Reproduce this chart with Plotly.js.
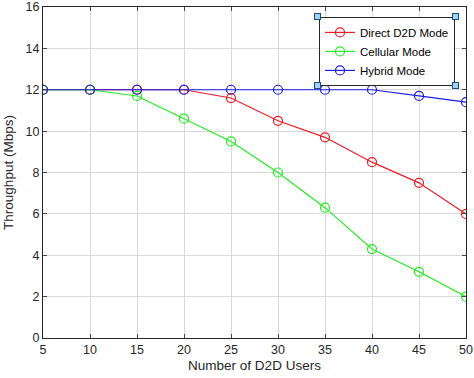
<!DOCTYPE html>
<html><head><meta charset="utf-8">
<script src="https://cdn.plot.ly/plotly-3.0.1.min.js"></script>
<style>html,body{margin:0;padding:0;background:#fff}#c{width:474px;height:378px}</style>
</head><body><div id="c"></div>
<script>
const users = [5, 10, 15, 20, 25, 30, 35, 40, 45, 50];
const direct = [12, 12, 12, 12, 11.6, 10.5, 9.7, 8.5, 7.5, 6.0];
const cellular = [12, 12, 11.7, 10.6, 9.5, 8.0, 6.3, 4.3, 3.2, 2.0];
const hybrid = [12, 12, 12, 12, 12, 12, 12, 12, 11.7, 11.4];
const names = ['Direct D2D Mode', 'Cellular Mode', 'Hybrid Mode'];
const colors = ['#ee1c25', '#22ee22', '#1c1cdd'];
const series = [direct, cellular, hybrid];

const traces = series.map((s, i) => ({
  x: users, y: s, name: names[i], type: 'scatter', mode: 'lines+markers',
  line: {color: colors[i], width: 1.2},
  marker: {symbol: 'circle-open', size: 9, color: colors[i], line: {width: 1.2}}
}));

const handles = [[0.649, 0.97], [0.974, 0.97], [0.649, 0.763], [0.974, 0.763]].map(p => ({
  xref: 'paper', yref: 'paper', x: p[0], y: p[1], xanchor: 'center', yanchor: 'middle',
  text: ' ', showarrow: false, width: 5, height: 5, borderpad: 0,
  bgcolor: '#9fd3f5', bordercolor: '#1c4f80', borderwidth: 1, font: {size: 4}
}));

Plotly.newPlot('c', traces, {
  width: 474, height: 378,
  margin: {l: 43, r: 8, t: 7, b: 40},
  paper_bgcolor: '#fff', plot_bgcolor: '#fff',
  font: {family: 'Liberation Sans, Arial, sans-serif', size: 12.5, color: '#262626'},
  showlegend: true,
  legend: {x: 0.974, y: 0.97, xanchor: 'right', yanchor: 'top', bgcolor: '#fff',
    bordercolor: '#262626', borderwidth: 1, font: {size: 11.5, color: '#000'},
    tracegroupgap: 0, itemwidth: 30},
  xaxis: {range: [5, 50], dtick: 5, tick0: 5, showgrid: true, gridcolor: '#d9d9d9',
    showline: true, linecolor: '#262626', mirror: 'ticks', ticks: 'inside', ticklen: 4,
    zeroline: false, title: {text: 'Number of D2D Users', font: {size: 13.5}, standoff: 4}},
  yaxis: {range: [0, 16], dtick: 2, showgrid: true, gridcolor: '#d9d9d9',
    showline: true, linecolor: '#262626', mirror: 'ticks', ticks: 'inside', ticklen: 4,
    zeroline: false, title: {text: 'Throughput (Mbps)', font: {size: 13.5}, standoff: 8}},
  annotations: handles
}, {displayModeBar: false, staticPlot: true});
</script></body></html>
